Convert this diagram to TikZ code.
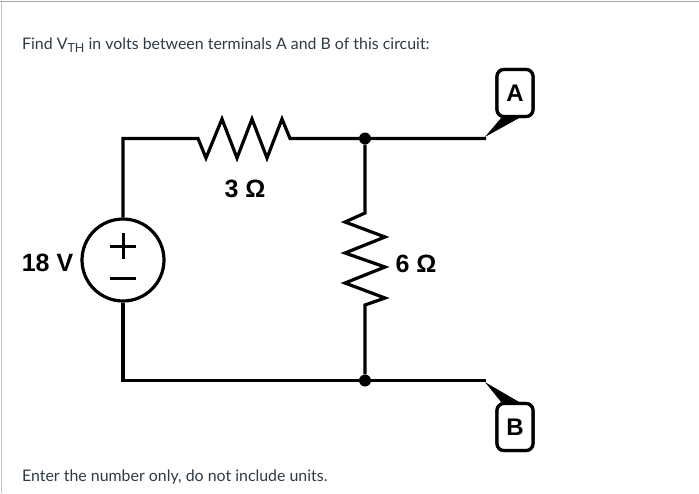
\documentclass[tikz,border=0pt]{standalone}
\usepackage{fontspec}
\setmainfont{Lato}
\newfontfamily\labelfont{Liberation Sans}
\definecolor{prompt}{RGB}{45,59,69}
\tikzset{
  wire/.style={line width=3.2pt,line join=miter,black},
  complabel/.style={font=\labelfont\bfseries\fontsize{25}{27}\selectfont,inner sep=0pt,black},
  prompttext/.style={font=\fontsize{15.9}{18}\selectfont,text=prompt,inner sep=0pt,anchor=base west},
  termbox/.style={draw=black,line width=3.2pt,rounded corners=7pt,fill=white,minimum width=36pt,minimum height=47pt,inner sep=0pt,font=\labelfont\bfseries\fontsize{24}{26}\selectfont},
  junction/.style={circle,fill=black,minimum size=12pt,inner sep=0pt},
  source/.style={circle,draw=black,line width=3.2pt,fill=white,minimum size=82pt,inner sep=0pt}
}
\begin{document}
\begin{tikzpicture}[x=1pt,y=-1pt]
\useasboundingbox (0,0) rectangle (699,493);
\draw[gray!70,line width=1.2pt] (0,1.5) -- (699,1.5);
\draw[gray!45,line width=.8pt] (1,1.5) -- (1,493);
\node[prompttext] (q1) at (22,49) {Find V\raisebox{-3.5pt}{\fontsize{12.5}{14}\selectfont TH} in volts between terminals A and B of this circuit:};
\node[prompttext] (q2) at (22,481) {Enter the number only, do not include units.};

\node[junction] (jt) at (365,138.5) {};
\node[junction] (jb) at (365,380.5) {};
\coordinate (tl) at (123,138.5);
\coordinate (bl) at (123,380.5);
\coordinate (ta) at (486,138.5);
\coordinate (tb) at (486,380.5);
\coordinate (r1a) at (198,138.5);
\coordinate (r1b) at (290,138.5);
\coordinate (r2a) at (365,213);
\coordinate (r2b) at (365,305);
\node[source] (src) at (123,260) {};
\node[termbox] (A) at (515,93) {A};
\node[termbox] (B) at (515,427) {B};

\draw[wire] (src.north) -- (tl) -- (r1a) -- (206,158) -- (222,119) -- (237,158) -- (252,119) -- (267,158) -- (282,119) -- (r1b) -- (jt) -- (ta);
\draw[wire] (jt) -- (r2a) -- (345,222) -- (385,237) -- (345,253) -- (385,267) -- (345,283) -- (385,298) -- (r2b) -- (jb);
\draw[wire] (src.south) -- (bl) -- (jb) -- (tb);
\fill[black] ([shift={(-1pt,1.6pt)}]ta) -- ([xshift=-14pt]A.south) -- ([xshift=4pt]A.south) -- cycle;
\fill[black] ([shift={(-1pt,-1.6pt)}]tb) -- ([xshift=-14pt]B.north) -- ([xshift=4pt]B.north) -- cycle;
\node[termbox] at (A) {A};
\node[termbox] at (B) {B};

\draw[line width=3pt] (110,246) -- (136,246);
\draw[line width=3pt] (123,233) -- (123,259);
\draw[line width=3pt] (110,278) -- (136,278);

\node[complabel,anchor=base] (l18) at (47.5,271) {18 V};
\node[complabel,anchor=base] (l3) at (245,197) {3 \char"03A9};
\node[complabel,anchor=base] (l6) at (416,272) {6 \char"03A9};
\end{tikzpicture}
\end{document}
